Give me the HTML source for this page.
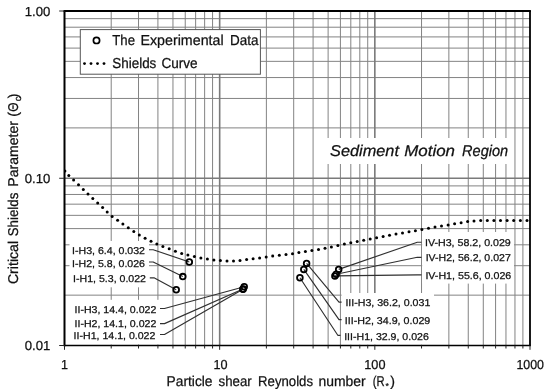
<!DOCTYPE html>
<html lang="en"><head><meta charset="utf-8"><title>Shields diagram</title>
<style>html,body{margin:0;padding:0;background:#fff;}svg{display:block;}text{font-family:"Liberation Sans",sans-serif;fill:#111;stroke:#111;stroke-width:0.25px;text-rendering:geometricPrecision;}</style></head><body>
<svg width="550" height="392" viewBox="0 0 550 392">
<rect width="550" height="392" fill="#fff"/>
<g stroke="#838383" stroke-width="1" fill="none">
<line x1="111.21" y1="11.0" x2="111.21" y2="345.5"/>
<line x1="138.53" y1="11.0" x2="138.53" y2="345.5"/>
<line x1="157.92" y1="11.0" x2="157.92" y2="345.5"/>
<line x1="172.96" y1="11.0" x2="172.96" y2="345.5"/>
<line x1="185.24" y1="11.0" x2="185.24" y2="345.5"/>
<line x1="195.63" y1="11.0" x2="195.63" y2="345.5"/>
<line x1="204.63" y1="11.0" x2="204.63" y2="345.5"/>
<line x1="212.57" y1="11.0" x2="212.57" y2="345.5"/>
<line x1="266.38" y1="11.0" x2="266.38" y2="345.5"/>
<line x1="293.70" y1="11.0" x2="293.70" y2="345.5"/>
<line x1="313.09" y1="11.0" x2="313.09" y2="345.5"/>
<line x1="328.12" y1="11.0" x2="328.12" y2="345.5"/>
<line x1="340.41" y1="11.0" x2="340.41" y2="345.5"/>
<line x1="350.80" y1="11.0" x2="350.80" y2="345.5"/>
<line x1="359.80" y1="11.0" x2="359.80" y2="345.5"/>
<line x1="367.73" y1="11.0" x2="367.73" y2="345.5"/>
<line x1="421.54" y1="11.0" x2="421.54" y2="345.5"/>
<line x1="448.87" y1="11.0" x2="448.87" y2="345.5"/>
<line x1="468.25" y1="11.0" x2="468.25" y2="345.5"/>
<line x1="483.29" y1="11.0" x2="483.29" y2="345.5"/>
<line x1="495.58" y1="11.0" x2="495.58" y2="345.5"/>
<line x1="505.96" y1="11.0" x2="505.96" y2="345.5"/>
<line x1="514.96" y1="11.0" x2="514.96" y2="345.5"/>
<line x1="522.90" y1="11.0" x2="522.90" y2="345.5"/>
<line x1="64.5" y1="295.15" x2="530.0" y2="295.15"/>
<line x1="64.5" y1="265.70" x2="530.0" y2="265.70"/>
<line x1="64.5" y1="244.81" x2="530.0" y2="244.81"/>
<line x1="64.5" y1="228.60" x2="530.0" y2="228.60"/>
<line x1="64.5" y1="215.35" x2="530.0" y2="215.35"/>
<line x1="64.5" y1="204.16" x2="530.0" y2="204.16"/>
<line x1="64.5" y1="194.46" x2="530.0" y2="194.46"/>
<line x1="64.5" y1="185.90" x2="530.0" y2="185.90"/>
<line x1="64.5" y1="127.90" x2="530.0" y2="127.90"/>
<line x1="64.5" y1="98.45" x2="530.0" y2="98.45"/>
<line x1="64.5" y1="77.56" x2="530.0" y2="77.56"/>
<line x1="64.5" y1="61.35" x2="530.0" y2="61.35"/>
<line x1="64.5" y1="48.10" x2="530.0" y2="48.10"/>
<line x1="64.5" y1="36.91" x2="530.0" y2="36.91"/>
<line x1="64.5" y1="27.21" x2="530.0" y2="27.21"/>
<line x1="64.5" y1="18.65" x2="530.0" y2="18.65"/>
</g>
<g stroke="#7a7a7a" stroke-width="1.6" fill="none">
<line x1="219.67" y1="11.0" x2="219.67" y2="345.5"/>
<line x1="374.83" y1="11.0" x2="374.83" y2="345.5"/>
<line x1="64.5" y1="178.25" x2="530.0" y2="178.25"/>
</g>
<rect x="69.5" y="241" width="79.5" height="46.3" fill="#fff"/>
<rect x="66" y="299.8" width="94.0" height="44.7" fill="#fff"/>
<rect x="341.6" y="293" width="92.4" height="51.7" fill="#fff"/>
<rect x="422.2" y="232" width="91.8" height="51.6" fill="#fff"/>
<rect x="325" y="138" width="187.0" height="26.0" fill="#fff"/>
<clipPath id="pc"><rect x="64.5" y="11" width="465.5" height="334.5"/></clipPath>
<g fill="#000" id="shields" clip-path="url(#pc)">
<circle cx="64.9" cy="171.0" r="1.5"/>
<circle cx="68.8" cy="175.6" r="1.5"/>
<circle cx="73.6" cy="180.1" r="1.5"/>
<circle cx="78.5" cy="184.7" r="1.5"/>
<circle cx="83.3" cy="189.4" r="1.5"/>
<circle cx="88.0" cy="193.9" r="1.5"/>
<circle cx="92.8" cy="198.4" r="1.5"/>
<circle cx="97.7" cy="203.0" r="1.5"/>
<circle cx="102.6" cy="207.6" r="1.5"/>
<circle cx="107.2" cy="212.1" r="1.5"/>
<circle cx="112.1" cy="216.4" r="1.5"/>
<circle cx="117.6" cy="220.3" r="1.5"/>
<circle cx="122.9" cy="224.1" r="1.5"/>
<circle cx="128.3" cy="227.8" r="1.5"/>
<circle cx="133.8" cy="231.5" r="1.5"/>
<circle cx="139.3" cy="235.1" r="1.5"/>
<circle cx="145.1" cy="238.3" r="1.5"/>
<circle cx="151.0" cy="241.3" r="1.5"/>
<circle cx="156.8" cy="244.0" r="1.5"/>
<circle cx="162.9" cy="246.5" r="1.5"/>
<circle cx="169.2" cy="248.8" r="1.5"/>
<circle cx="175.4" cy="251.2" r="1.5"/>
<circle cx="181.7" cy="253.4" r="1.5"/>
<circle cx="187.9" cy="255.1" r="1.5"/>
<circle cx="194.4" cy="256.6" r="1.5"/>
<circle cx="200.9" cy="257.9" r="1.5"/>
<circle cx="207.4" cy="259.1" r="1.5"/>
<circle cx="213.9" cy="260.0" r="1.5"/>
<circle cx="220.4" cy="260.6" r="1.5"/>
<circle cx="227.0" cy="260.9" r="1.5"/>
<circle cx="233.5" cy="260.9" r="1.5"/>
<circle cx="240.0" cy="260.4" r="1.5"/>
<circle cx="246.6" cy="259.6" r="1.5"/>
<circle cx="253.1" cy="258.8" r="1.5"/>
<circle cx="259.6" cy="257.9" r="1.5"/>
<circle cx="266.2" cy="257.0" r="1.5"/>
<circle cx="272.7" cy="256.1" r="1.5"/>
<circle cx="279.3" cy="255.3" r="1.5"/>
<circle cx="286.0" cy="254.6" r="1.5"/>
<circle cx="292.5" cy="253.7" r="1.5"/>
<circle cx="298.9" cy="252.6" r="1.5"/>
<circle cx="305.4" cy="251.6" r="1.5"/>
<circle cx="311.9" cy="250.6" r="1.5"/>
<circle cx="318.5" cy="249.4" r="1.5"/>
<circle cx="325.0" cy="248.3" r="1.5"/>
<circle cx="331.4" cy="246.9" r="1.5"/>
<circle cx="337.9" cy="245.4" r="1.5"/>
<circle cx="344.4" cy="244.0" r="1.5"/>
<circle cx="350.8" cy="242.8" r="1.5"/>
<circle cx="357.2" cy="241.6" r="1.5"/>
<circle cx="363.7" cy="240.3" r="1.5"/>
<circle cx="370.2" cy="238.9" r="1.5"/>
<circle cx="376.6" cy="237.7" r="1.5"/>
<circle cx="383.1" cy="236.4" r="1.5"/>
<circle cx="389.5" cy="235.2" r="1.5"/>
<circle cx="396.0" cy="234.1" r="1.5"/>
<circle cx="402.5" cy="232.9" r="1.5"/>
<circle cx="409.0" cy="231.8" r="1.5"/>
<circle cx="415.4" cy="230.7" r="1.5"/>
<circle cx="421.9" cy="229.4" r="1.5"/>
<circle cx="428.5" cy="228.3" r="1.5"/>
<circle cx="435.0" cy="227.1" r="1.5"/>
<circle cx="441.5" cy="226.0" r="1.5"/>
<circle cx="448.1" cy="225.0" r="1.5"/>
<circle cx="454.6" cy="223.8" r="1.5"/>
<circle cx="461.1" cy="222.7" r="1.5"/>
<circle cx="467.6" cy="221.6" r="1.5"/>
<circle cx="474.0" cy="221.0" r="1.5"/>
<circle cx="480.7" cy="220.6" r="1.5"/>
<circle cx="487.3" cy="220.4" r="1.5"/>
<circle cx="493.9" cy="220.4" r="1.5"/>
<circle cx="500.5" cy="220.4" r="1.5"/>
<circle cx="507.1" cy="220.4" r="1.5"/>
<circle cx="513.7" cy="220.4" r="1.5"/>
<circle cx="520.4" cy="220.4" r="1.5"/>
<circle cx="527.0" cy="220.4" r="1.5"/>
</g>
<g stroke="#303030" stroke-width="1.15" fill="none" stroke-linejoin="round">
<polyline points="149,249.7 153.2,249.7 189.3,262"/>
<polyline points="149,262 153.2,262 182.8,276.6"/>
<polyline points="149.8,277.8 154,277.8 176.2,289.8"/>
<polyline points="160,308.5 164.5,308.5 244.2,286.7"/>
<polyline points="160,323.6 164.5,323.6 243,289"/>
<polyline points="160,334.5 164.5,334.5 243,289.3"/>
<polyline points="341.6,302.1 339,302.1 306.6,263.4"/>
<polyline points="341.6,319.6 339,319.6 303.8,269.4"/>
<polyline points="340.5,335.3 337.8,335.3 299.9,277.7"/>
<polyline points="421.5,242.2 417.3,242.2 338.7,269.4"/>
<polyline points="421.5,257.3 417.3,257.3 336.2,274.2"/>
<polyline points="421.5,274.8 417.3,274.8 334.9,275.9"/>
</g>
<g stroke="#000" stroke-width="1.8" fill="none">
<circle cx="189.3" cy="262" r="2.85"/>
<circle cx="182.8" cy="276.6" r="2.85"/>
<circle cx="176.2" cy="289.8" r="2.85"/>
<circle cx="244.2" cy="286.7" r="2.85"/>
<circle cx="243" cy="289" r="2.85"/>
<circle cx="243" cy="289.3" r="2.85"/>
<circle cx="306.6" cy="263.4" r="2.85"/>
<circle cx="303.8" cy="269.4" r="2.85"/>
<circle cx="299.9" cy="277.7" r="2.85"/>
<circle cx="338.7" cy="269.4" r="2.85"/>
<circle cx="336.2" cy="274.2" r="2.85"/>
<circle cx="334.9" cy="275.9" r="2.85"/>
</g>
<g stroke="#000" fill="none">
<line x1="63.5" y1="11.0" x2="530.9" y2="11.0" stroke-width="2"/>
<line x1="64.5" y1="11.0" x2="64.5" y2="346.3" stroke-width="2"/>
<line x1="64.5" y1="345.5" x2="530.9" y2="345.5" stroke-width="1.6"/>
<line x1="530.0" y1="11.0" x2="530.0" y2="345.5" stroke-width="1.8"/>
</g>
<g stroke="#222" stroke-width="1" fill="none">
<line x1="59.2" y1="11.00" x2="64.5" y2="11.00"/>
<line x1="59.2" y1="178.25" x2="64.5" y2="178.25"/>
<line x1="59.2" y1="345.50" x2="64.5" y2="345.50"/>
<line x1="64.50" y1="345.5" x2="64.50" y2="349.8"/>
<line x1="219.67" y1="345.5" x2="219.67" y2="349.8"/>
<line x1="374.83" y1="345.5" x2="374.83" y2="349.8"/>
<line x1="530.00" y1="345.5" x2="530.00" y2="349.8"/>
<line x1="111.21" y1="345.5" x2="111.21" y2="348.5"/>
<line x1="138.53" y1="345.5" x2="138.53" y2="348.5"/>
<line x1="157.92" y1="345.5" x2="157.92" y2="348.5"/>
<line x1="172.96" y1="345.5" x2="172.96" y2="348.5"/>
<line x1="185.24" y1="345.5" x2="185.24" y2="348.5"/>
<line x1="195.63" y1="345.5" x2="195.63" y2="348.5"/>
<line x1="204.63" y1="345.5" x2="204.63" y2="348.5"/>
<line x1="212.57" y1="345.5" x2="212.57" y2="348.5"/>
<line x1="266.38" y1="345.5" x2="266.38" y2="348.5"/>
<line x1="293.70" y1="345.5" x2="293.70" y2="348.5"/>
<line x1="313.09" y1="345.5" x2="313.09" y2="348.5"/>
<line x1="328.12" y1="345.5" x2="328.12" y2="348.5"/>
<line x1="340.41" y1="345.5" x2="340.41" y2="348.5"/>
<line x1="350.80" y1="345.5" x2="350.80" y2="348.5"/>
<line x1="359.80" y1="345.5" x2="359.80" y2="348.5"/>
<line x1="367.73" y1="345.5" x2="367.73" y2="348.5"/>
<line x1="421.54" y1="345.5" x2="421.54" y2="348.5"/>
<line x1="448.87" y1="345.5" x2="448.87" y2="348.5"/>
<line x1="468.25" y1="345.5" x2="468.25" y2="348.5"/>
<line x1="483.29" y1="345.5" x2="483.29" y2="348.5"/>
<line x1="495.58" y1="345.5" x2="495.58" y2="348.5"/>
<line x1="505.96" y1="345.5" x2="505.96" y2="348.5"/>
<line x1="514.96" y1="345.5" x2="514.96" y2="348.5"/>
<line x1="522.90" y1="345.5" x2="522.90" y2="348.5"/>
</g>
<rect x="80.3" y="29.6" width="180.1" height="44.6" fill="#fff" stroke="#555" stroke-width="1"/>
<circle cx="96.5" cy="40.4" r="3.1" fill="none" stroke="#000" stroke-width="1.7"/>
<circle cx="84.5" cy="63.6" r="1.4" fill="#000"/>
<circle cx="91" cy="63.6" r="1.4" fill="#000"/>
<circle cx="97.5" cy="63.6" r="1.4" fill="#000"/>
<circle cx="104" cy="63.6" r="1.4" fill="#000"/>
<text x="112.3" y="44.6" font-size="14.4" text-anchor="start" textLength="22.7" lengthAdjust="spacingAndGlyphs">The</text>
<text x="140.5" y="44.6" font-size="14.4" text-anchor="start" textLength="83.1" lengthAdjust="spacingAndGlyphs">Experimental</text>
<text x="230" y="44.6" font-size="14.4" text-anchor="start" textLength="28.5" lengthAdjust="spacingAndGlyphs">Data</text>
<text x="112.3" y="67.6" font-size="14.4" text-anchor="start" textLength="44.0" lengthAdjust="spacingAndGlyphs">Shields</text>
<text x="161.4" y="67.6" font-size="14.4" text-anchor="start" textLength="36.2" lengthAdjust="spacingAndGlyphs">Curve</text>
<text x="24.7" y="15.6" font-size="13" text-anchor="start" textLength="25.6" lengthAdjust="spacingAndGlyphs">1.00</text>
<text x="24.7" y="182.9" font-size="13" text-anchor="start" textLength="25.6" lengthAdjust="spacingAndGlyphs">0.10</text>
<text x="24.7" y="350.2" font-size="13" text-anchor="start" textLength="25.6" lengthAdjust="spacingAndGlyphs">0.01</text>
<text x="61" y="369.4" font-size="13" text-anchor="start" textLength="7" lengthAdjust="spacingAndGlyphs">1</text>
<text x="213.5" y="369.4" font-size="13" text-anchor="start" textLength="14.1" lengthAdjust="spacingAndGlyphs">10</text>
<text x="364.3" y="369.4" font-size="13" text-anchor="start" textLength="21.2" lengthAdjust="spacingAndGlyphs">100</text>
<text x="516.4" y="369.4" font-size="13" text-anchor="start" textLength="27.6" lengthAdjust="spacingAndGlyphs">1000</text>
<text x="166.6" y="385.6" font-size="14.2" text-anchor="start" textLength="45.9" lengthAdjust="spacingAndGlyphs">Particle</text>
<text x="218.6" y="385.6" font-size="14.2" text-anchor="start" textLength="33.1" lengthAdjust="spacingAndGlyphs">shear</text>
<text x="258.1" y="385.6" font-size="14.2" text-anchor="start" textLength="54.9" lengthAdjust="spacingAndGlyphs">Reynolds</text>
<text x="318.5" y="385.6" font-size="14.2" text-anchor="start" textLength="47.2" lengthAdjust="spacingAndGlyphs">number</text>
<text x="372.8" y="385.6" font-size="14.2" text-anchor="start" textLength="11.9" lengthAdjust="spacingAndGlyphs">(R</text>
<text x="385.6" y="389.2" font-size="8.6" text-anchor="start">*</text>
<text x="390.3" y="385.6" font-size="14.2" text-anchor="start">)</text>
<g transform="translate(17.9,0) rotate(-90)">
<text x="-284.1" y="0" font-size="14.2" text-anchor="start" textLength="43.2" lengthAdjust="spacingAndGlyphs">Critical</text>
<text x="-236.3" y="0" font-size="14.2" text-anchor="start" textLength="43.6" lengthAdjust="spacingAndGlyphs">Shields</text>
<text x="-186.7" y="0" font-size="14.2" text-anchor="start" textLength="65.6" lengthAdjust="spacingAndGlyphs">Parameter</text>
<text x="-116.8" y="0" font-size="14.2" text-anchor="start">(</text>
<text x="-111.8" y="0" font-size="14.2" text-anchor="start" textLength="9.3" lengthAdjust="spacingAndGlyphs">Θ</text>
<text x="-101.2" y="2.8" font-size="9.5" text-anchor="start">c</text>
<text x="-98.3" y="0" font-size="14.2" text-anchor="start">)</text>
</g>
<text x="330" y="156.3" font-size="15.6" text-anchor="start" textLength="69" lengthAdjust="spacingAndGlyphs" font-style="italic">Sediment</text>
<text x="404.2" y="156.3" font-size="15.6" text-anchor="start" textLength="50.8" lengthAdjust="spacingAndGlyphs" font-style="italic">Motion</text>
<text x="462.1" y="156.3" font-size="15.6" text-anchor="start" textLength="46.1" lengthAdjust="spacingAndGlyphs" font-style="italic">Region</text>
<text x="72.1" y="253.9" font-size="9.9" text-anchor="start" textLength="72.9" lengthAdjust="spacingAndGlyphs">I-H3, 6.4, 0.032</text>
<text x="72.1" y="266.6" font-size="9.9" text-anchor="start" textLength="72.9" lengthAdjust="spacingAndGlyphs">I-H2, 5.8, 0.026</text>
<text x="73.1" y="281.5" font-size="9.9" text-anchor="start" textLength="72.9" lengthAdjust="spacingAndGlyphs">I-H1, 5.3, 0.022</text>
<text x="74.5" y="313" font-size="9.9" text-anchor="start" textLength="81.8" lengthAdjust="spacingAndGlyphs">II-H3, 14.4, 0.022</text>
<text x="74.5" y="327" font-size="9.9" text-anchor="start" textLength="81.8" lengthAdjust="spacingAndGlyphs">II-H2, 14.1, 0.022</text>
<text x="73.6" y="339" font-size="9.9" text-anchor="start" textLength="81.8" lengthAdjust="spacingAndGlyphs">II-H1, 14.1, 0.022</text>
<text x="345.4" y="306.3" font-size="9.9" text-anchor="start" textLength="84.9" lengthAdjust="spacingAndGlyphs">III-H3, 36.2, 0.031</text>
<text x="344.8" y="323.5" font-size="9.9" text-anchor="start" textLength="85.5" lengthAdjust="spacingAndGlyphs">III-H2, 34.9, 0.029</text>
<text x="344.2" y="340.4" font-size="9.9" text-anchor="start" textLength="84.6" lengthAdjust="spacingAndGlyphs">III-H1, 32.9, 0.026</text>
<text x="425.0" y="245.8" font-size="9.9" text-anchor="start" textLength="85.8" lengthAdjust="spacingAndGlyphs">IV-H3, 58.2, 0.029</text>
<text x="425.7" y="260.5" font-size="9.9" text-anchor="start" textLength="85.1" lengthAdjust="spacingAndGlyphs">IV-H2, 56.2, 0.027</text>
<text x="425.4" y="279" font-size="9.9" text-anchor="start" textLength="85.9" lengthAdjust="spacingAndGlyphs">IV-H1, 55.6, 0.026</text>
</svg></body></html>
